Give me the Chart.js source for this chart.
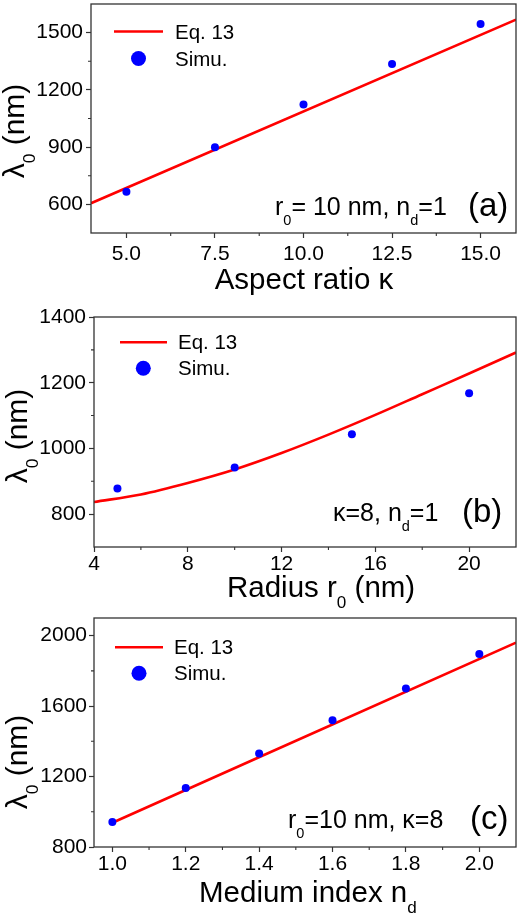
<!DOCTYPE html>
<html>
<head>
<meta charset="utf-8">
<script src="https://cdn.jsdelivr.net/npm/chart.js@4.4.0/dist/chart.umd.min.js"></script>
<style>
  html, body { margin: 0; padding: 0; background: #fff; }
  #wrap { position: relative; width: 520px; height: 917px; overflow: hidden; }
  canvas { position: absolute; left: 0; }
</style>
</head>
<body>
<div id="wrap">
  <canvas id="pa" width="520" height="300" style="top:0px"></canvas>
  <canvas id="pb" width="520" height="315" style="top:300px"></canvas>
  <canvas id="pc" width="520" height="312" style="top:605px"></canvas>
</div>
<script>
// (a) aspect ratio
const kappa = [5.0, 7.5, 10.0, 12.5, 15.0];
const kappaSim = [666, 900, 1124, 1335, 1545];
const kappaEqX = [4, 16];
const kappaEqY = [606, 1568];
const kappaTicks = [5.0, 7.5, 10.0, 12.5, 15.0];
const kappaMinor = [6.25, 8.75, 11.25, 13.75];
const aTicksY = [600, 900, 1200, 1500];
const aMinorY = [750, 1050, 1350];

// (b) radius
const radius = [5, 10, 15, 20];
const radiusSim = [878, 942, 1043, 1168];
const radiusEqX = [4, 6, 8, 10, 12, 14, 16, 18, 20, 22];
const radiusEqY = [837, 860, 895, 936, 986, 1042, 1102, 1165, 1228, 1292];
const radiusTicks = [4, 8, 12, 16, 20];
const radiusMinor = [6, 10, 14, 18];
const bTicksY = [800, 1000, 1200, 1400];
const bMinorY = [900, 1100, 1300];

// (c) medium index
const index = [1.0, 1.2, 1.4, 1.6, 1.8, 2.0];
const indexSim = [942, 1135, 1331, 1519, 1700, 1896];
const indexEqX = [1.0, 2.1];
const indexEqY = [938, 1960];
const indexTicks = [1.0, 1.2, 1.4, 1.6, 1.8, 2.0];
const indexMinor = [1.1, 1.3, 1.5, 1.7, 1.9];
const cTicksY = [800, 1200, 1600, 2000];
const cMinorY = [1000, 1400, 1800];

const FONT = "'Liberation Sans', Arial, sans-serif";
Chart.defaults.font.family = FONT;
Chart.defaults.color = "#000";

// text pieces: [text, isSubscript]
const yTitle = [["λ", 0], ["0", 1], [" (nm)", 0]];

function rich(ctx, parts, x, y, size, align) {
    let w = 0;
    parts.forEach(([t, sub]) => {
        ctx.font = (sub ? size * 0.58 : size) + "px " + FONT;
        w += ctx.measureText(t).width;
    });
    let cx = align === "center" ? x - w / 2 : x;
    ctx.textAlign = "left";
    ctx.textBaseline = "alphabetic";
    parts.forEach(([t, sub]) => {
        ctx.font = (sub ? size * 0.58 : size) + "px " + FONT;
        ctx.fillText(t, cx, sub ? y + size * 0.38 : y);
        cx += ctx.measureText(t).width;
    });
}

function makePanel(id, p) {
    const H = document.getElementById(id).height;
    const deco = {
        id: "deco" + id,
        afterDraw(chart) {
            const ctx = chart.ctx;
            const a = chart.chartArea;
            const xs = chart.scales.x, ys = chart.scales.y;
            ctx.save();
            // frame
            ctx.strokeStyle = "#333";
            ctx.lineWidth = 1.3;
            ctx.strokeRect(a.left, a.top, a.right - a.left, a.bottom - a.top);
            // minor ticks
            ctx.lineWidth = 1.1;
            ctx.beginPath();
            p.minorX.forEach(v => {
                const px = xs.getPixelForValue(v);
                ctx.moveTo(px, a.bottom); ctx.lineTo(px, a.bottom + 3);
            });
            p.minorY.forEach(v => {
                const py = ys.getPixelForValue(v);
                ctx.moveTo(a.left, py); ctx.lineTo(a.left - 3, py);
            });
            ctx.stroke();
            // legend
            const L = p.legend;
            ctx.strokeStyle = "#ff0000";
            ctx.lineWidth = 2.6;
            ctx.beginPath();
            ctx.moveTo(L.x1, L.y1); ctx.lineTo(L.x2, L.y1);
            ctx.stroke();
            ctx.fillStyle = "#0000ff";
            ctx.beginPath();
            ctx.arc(L.dx, L.dy, 7.5, 0, Math.PI * 2);
            ctx.fill();
            ctx.fillStyle = "#000";
            rich(ctx, [["Eq. 13", 0]], L.tx, L.y1 + 7, 20.5, "left");
            rich(ctx, [["Simu.", 0]], L.tx, L.dy + 7, 20.5, "left");
            // note and panel letter
            rich(ctx, p.note, p.noteX, p.noteY, 25, "left");
            rich(ctx, [[p.letter, 0]], p.letterX, p.noteY + 1, 33, "left");
            // axis titles
            rich(ctx, p.xTitle, p.xTitleX, p.xTitleY, 29.5, p.xTitleAlign);
            ctx.translate(p.yTitleX, p.yTitleY);
            ctx.rotate(-Math.PI / 2);
            rich(ctx, yTitle, 0, 0, 30, "center");
            ctx.restore();
        }
    };

    new Chart(document.getElementById(id), {
        type: "scatter",
        data: {
            datasets: [
                {
                    label: "Eq. 13",
                    data: p.eqX.map((x, i) => ({ x, y: p.eqY[i] })),
                    showLine: true,
                    borderColor: "#ff0000",
                    borderWidth: 2.6,
                    pointRadius: 0,
                    cubicInterpolationMode: "monotone",
                    order: 1
                },
                {
                    label: "Simu.",
                    data: p.simX.map((x, i) => ({ x, y: p.simY[i] })),
                    backgroundColor: "#0000ff",
                    borderWidth: 0,
                    pointRadius: 4,
                    order: 0
                }
            ]
        },
        options: {
            responsive: false,
            animation: false,
            events: [],
            layout: { padding: { left: 0, right: 520 - p.area.right, top: p.area.top, bottom: 0 } },
            plugins: { legend: { display: false }, tooltip: { enabled: false } },
            scales: {
                x: {
                    type: "linear",
                    min: p.xMin, max: p.xMax,
                    afterBuildTicks: s => { s.ticks = p.ticksX.map(v => ({ value: v })); },
                    afterFit: s => { s.height = H - p.area.bottom; s.paddingLeft = 0; s.paddingRight = 0; },
                    ticks: { autoSkip: false, maxRotation: 0, padding: p.xPad, font: { size: 21 }, color: "#000", callback: p.fmtX },
                    grid: { drawOnChartArea: false, tickLength: 5, tickColor: "#333", tickWidth: 1.2 },
                    border: { display: false }
                },
                y: {
                    type: "linear",
                    min: p.yMin, max: p.yMax,
                    afterBuildTicks: s => { s.ticks = p.ticksY.map(v => ({ value: v })); },
                    afterFit: s => { s.width = p.area.left; s.paddingTop = 0; s.paddingBottom = 0; },
                    ticks: { autoSkip: false, padding: p.yPad, font: { size: 21 }, color: "#000", callback: v => String(v) },
                    grid: { drawOnChartArea: false, tickLength: 5, tickColor: "#333", tickWidth: 1.2 },
                    border: { display: false }
                }
            }
        },
        plugins: [deco]
    });
}

makePanel("pa", {
    area: { left: 91, top: 1, right: 518, bottom: 233 },
    xMin: 4, xMax: 16, yMin: 450, yMax: 1650,
    ticksX: kappaTicks, minorX: kappaMinor, ticksY: aTicksY, minorY: aMinorY,
    fmtX: v => v.toFixed(1), xPad: 4, yPad: 3,
    eqX: kappaEqX, eqY: kappaEqY, simX: kappa, simY: kappaSim,
    legend: { x1: 114, x2: 163, y1: 31.5, dx: 138.5, dy: 58.5, tx: 175 },
    note: [["r", 0], ["0", 1], ["= 10 nm, n", 0], ["d", 1], ["=1", 0]],
    noteX: 275, noteY: 215, letter: "(a)", letterX: 468,
    xTitle: [["Aspect ratio κ", 0]], xTitleX: 304, xTitleY: 289, xTitleAlign: "center",
    yTitleX: 24, yTitleY: 131
});

makePanel("pb", {
    area: { left: 94, top: 17, right: 518, bottom: 247 },
    xMin: 4, xMax: 22, yMin: 700, yMax: 1400,
    ticksX: radiusTicks, minorX: radiusMinor, ticksY: bTicksY, minorY: bMinorY,
    fmtX: v => String(v), xPad: 0, yPad: 3,
    eqX: radiusEqX, eqY: radiusEqY, simX: radius, simY: radiusSim,
    legend: { x1: 120, x2: 167, y1: 42.3, dx: 143.3, dy: 68.3, tx: 178 },
    note: [["κ=8, n", 0], ["d", 1], ["=1", 0]],
    noteX: 333, noteY: 221, letter: "(b)", letterX: 462,
    xTitle: [["Radius r", 0], ["0", 1], [" (nm)", 0]], xTitleX: 227, xTitleY: 297, xTitleAlign: "left",
    yTitleX: 27, yTitleY: 136
});

makePanel("pc", {
    area: { left: 94, top: 13, right: 518, bottom: 242 },
    xMin: 0.95, xMax: 2.1, yMin: 800, yMax: 2100,
    ticksX: indexTicks, minorX: indexMinor, ticksY: cTicksY, minorY: cMinorY,
    fmtX: v => v.toFixed(1), xPad: 0, yPad: 2,
    eqX: indexEqX, eqY: indexEqY, simX: index, simY: indexSim,
    legend: { x1: 115, x2: 163, y1: 42.3, dx: 139, dy: 68.3, tx: 174 },
    note: [["r", 0], ["0", 1], ["=10 nm, κ=8", 0]],
    noteX: 288, noteY: 223, letter: "(c)", letterX: 470,
    xTitle: [["Medium index n", 0], ["d", 1]], xTitleX: 199, xTitleY: 297, xTitleAlign: "left",
    yTitleX: 27, yTitleY: 157
});
</script>
</body>
</html>
